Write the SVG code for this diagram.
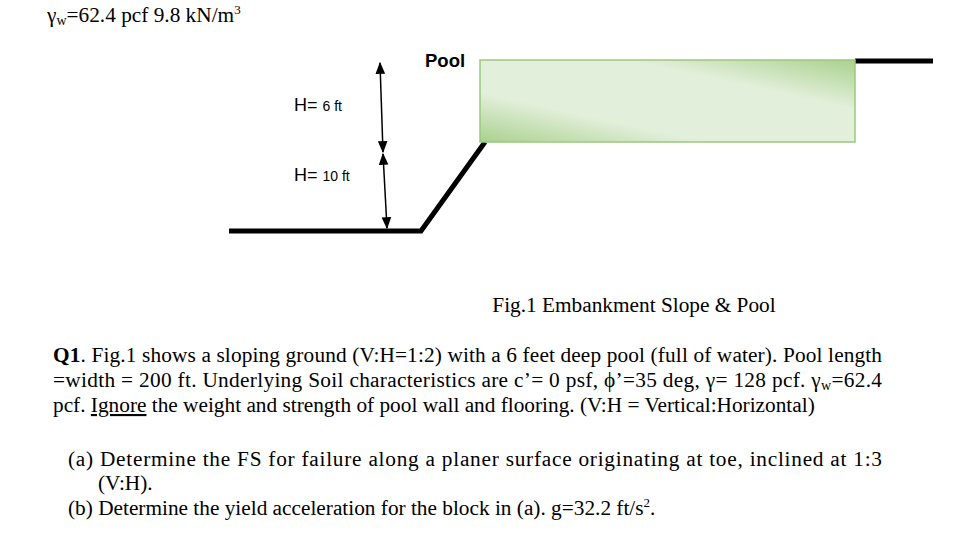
<svg xmlns="http://www.w3.org/2000/svg" width="977" height="534" viewBox="0 0 977 534">
<style>
.t{font-family:"Liberation Serif",serif;font-size:21.3px;fill:#000}
.s{font-family:"Liberation Sans",sans-serif;fill:#000}
.g{stroke:#000;stroke-width:5;fill:none}
.d{stroke:#000;stroke-width:1.5;fill:none}
</style>
<defs>
<marker id="a" viewBox="0 0 10 10" refX="9" refY="5" markerWidth="8" markerHeight="8" orient="auto-start-reverse"><path d="M0,1 L10,5 L0,9 z" fill="#000"/></marker>
<linearGradient id="pg" x1="0" y1="1" x2="1" y2="0">
<stop offset="0" stop-color="#a9d18e"/><stop offset="0.3" stop-color="#e2efda"/><stop offset="0.7" stop-color="#e2efda"/><stop offset="1" stop-color="#a9d18e"/></linearGradient>
</defs>
<rect width="977" height="534" fill="#fff"/>
<text class="t" x="47" y="22">γ<tspan font-size="14" dy="3">w</tspan><tspan dy="-3">=62.4 pcf 9.8 kN/m</tspan><tspan font-size="13" dy="-8">3</tspan></text>
<g id="ground">
<path class="g" d="M229,231 L421,231 L485,142"/>
<path class="g" d="M855,61 L933,61"/>
</g>
<g id="pool">
<rect x="480" y="60" width="375" height="82" fill="url(#pg)" stroke="#9cc87e" stroke-width="1.5"/>
<text class="s" x="425" y="67" font-size="18.5" font-weight="bold">Pool</text>
</g>
<g id="connectors">
<line class="d" x1="380" y1="63" x2="383" y2="152" marker-start="url(#a)" marker-end="url(#a)"/>
<line class="d" x1="383" y1="154" x2="387" y2="228" marker-start="url(#a)" marker-end="url(#a)"/>
</g>
<g id="labels">
<text class="s" x="294" y="111" font-size="18">H= <tspan font-size="14">6 ft</tspan></text>
<text class="s" x="294" y="181" font-size="18">H= <tspan font-size="14">10 ft</tspan></text>
</g>
<text class="t" x="634" y="312" text-anchor="middle">Fig.1 Embankment Slope &amp; Pool</text>
<text class="t" x="53" y="362" textLength="829" lengthAdjust="spacing"><tspan font-weight="bold">Q1</tspan>. Fig.1 shows a sloping ground (V:H=1:2) with a 6 feet deep pool (full of water). Pool length</text>
<text class="t" x="53" y="387" textLength="829" lengthAdjust="spacing">=width = 200 ft. Underlying Soil characteristics are c’= 0 psf, ϕ’=35 deg, γ= 128 pcf. γ<tspan font-size="14" dy="3">w</tspan><tspan dy="-3">=62.4</tspan></text>
<text class="t" x="53" y="412">pcf. <tspan text-decoration="underline">Ignore</tspan> the weight and strength of pool wall and flooring. (V:H = Vertical:Horizontal)</text>
<text class="t" x="68" y="466" textLength="814" lengthAdjust="spacing">(a) Determine the FS for failure along a planer surface originating at toe, inclined at 1:3</text>
<text class="t" x="98" y="490">(V:H).</text>
<text class="t" x="68" y="515">(b) Determine the yield acceleration for the block in (a).  g=32.2 ft/s<tspan font-size="13" dy="-8">2</tspan><tspan dy="8">.</tspan></text>
</svg>
